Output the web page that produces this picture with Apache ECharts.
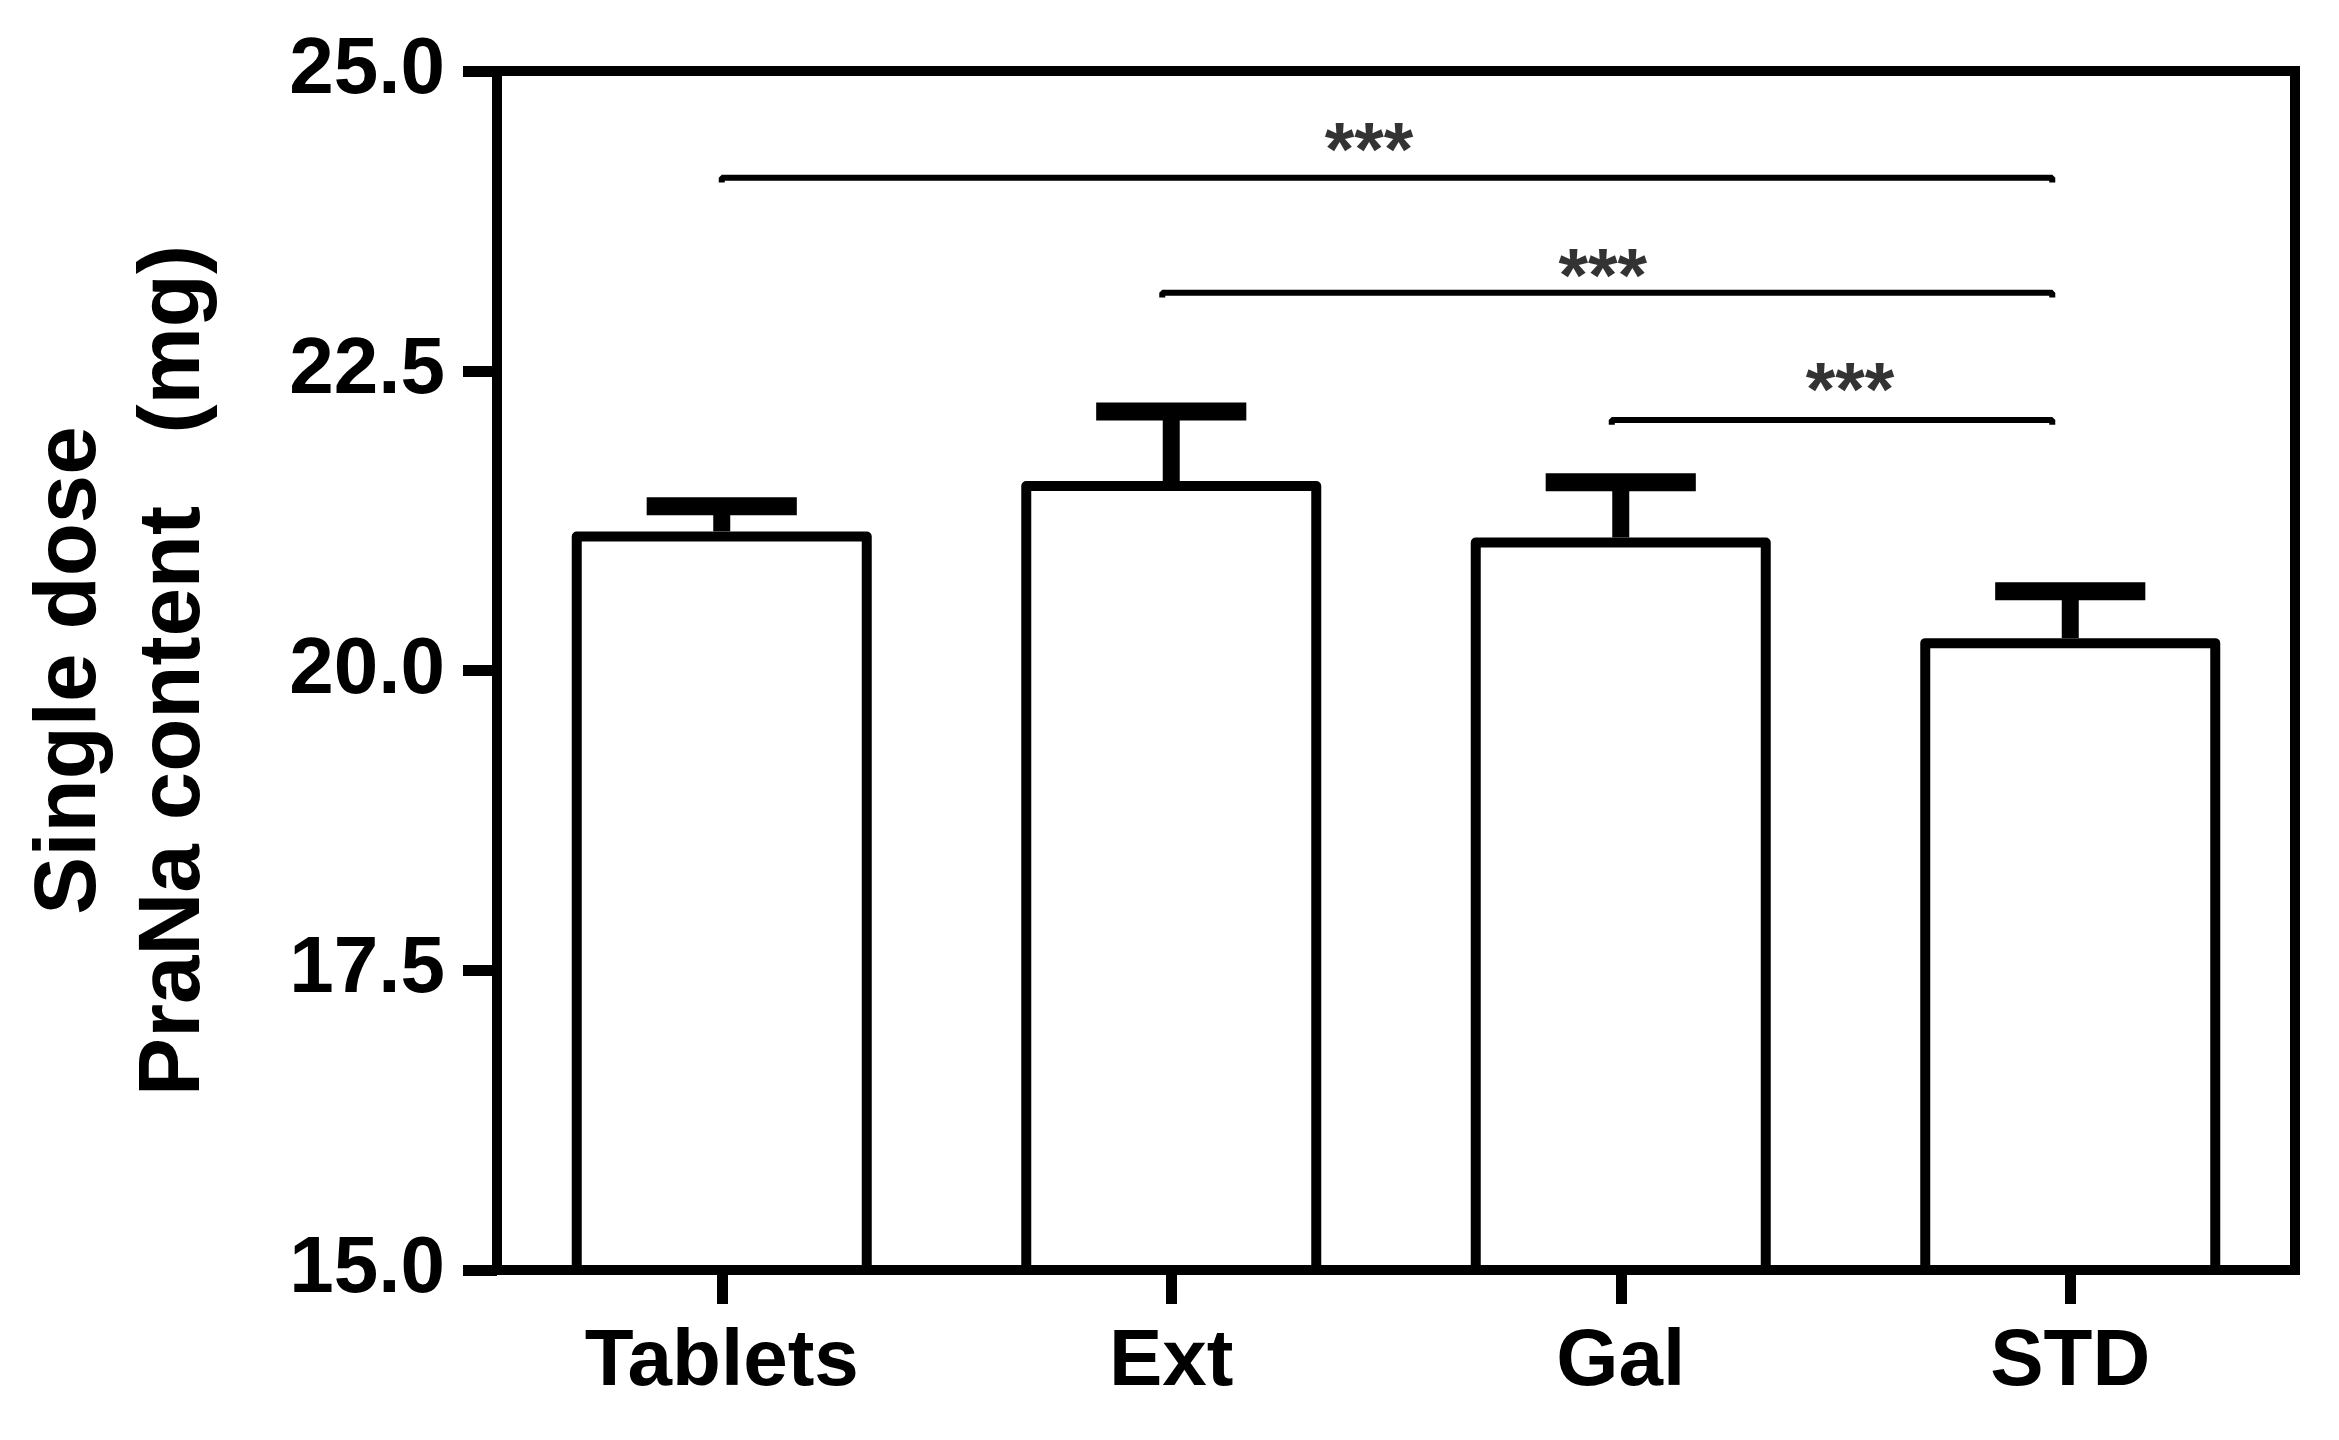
<!DOCTYPE html>
<html>
<head>
<meta charset="utf-8">
<script src="https://cdn.jsdelivr.net/npm/echarts@6/dist/echarts.min.js"></script>
<style>
html,body{margin:0;padding:0;background:#fff;}
#chart{width:2339px;height:1440px;}
</style>
</head>
<body>
<div id="chart"></div>
<script>
// ---- data ----
const categories = ['Tablets', 'Ext', 'Gal', 'STD'];
const means = [21.16, 21.58, 21.11, 20.27];
const sds = [0.21, 0.58, 0.46, 0.39];
const yMin = 15.0, yMax = 25.0, yStep = 2.5;
const yTitle = 'Single dose\nPraNa content   (mg)';
// significance brackets (x in category units, y in mg)
const sigLeft = [0.0, 0.98, 1.98];
const sigRight = [2.96, 2.96, 2.96];
const sigY = [24.11, 23.15, 22.09];
const sigText = ['***', '***', '***'];
const sigTextX = [1.44, 1.96, 2.51];
const sigTextY = [24.43, 23.38, 22.43];

const FONT = "'Liberation Sans', Arial, sans-serif";
const chart = echarts.init(document.getElementById('chart'), null, {renderer: 'canvas'});

const hook = 0.04;
const bracketSeries = sigLeft.map((l, i) => ({
  type: 'line',
  xAxisIndex: 1,
  symbol: 'none',
  silent: true,
  z: 5,
  lineStyle: {color: '#000', width: 6},
  data: [[l, sigY[i] - hook], [l, sigY[i]], [sigRight[i], sigY[i]], [sigRight[i], sigY[i] - hook]]
}));

const option = {
  animation: false,
  backgroundColor: '#fff',
  grid: {
    left: 497, right: 44, top: 71, bottom: 170,
    show: true, borderColor: '#000', borderWidth: 10, backgroundColor: 'transparent'
  },
  xAxis: [{
    type: 'category',
    data: categories,
    boundaryGap: true,
    axisLine: {show: true, onZero: false, lineStyle: {color: '#000', width: 10}},
    axisTick: {show: true, alignWithLabel: true, length: 34, lineStyle: {color: '#000', width: 11}},
    axisLabel: {margin: 53, fontSize: 80, fontWeight: 'bold', color: '#000', fontFamily: FONT},
    splitLine: {show: false}
  }, {
    type: 'value', min: -0.5, max: 3.5, show: false,
    axisLine: {onZero: false}
  }],
  yAxis: {
    type: 'value',
    min: yMin, max: yMax, interval: yStep,
    axisLine: {show: true, onZero: false, lineStyle: {color: '#000', width: 10}},
    axisTick: {show: true, length: 34, lineStyle: {color: '#000', width: 11}},
    axisLabel: {margin: 52, fontSize: 80, fontWeight: 'bold', color: '#000', fontFamily: FONT,
      formatter: v => v.toFixed(1)},
    splitLine: {show: false},
    name: yTitle,
    nameLocation: 'middle',
    nameRotate: 90,
    nameGap: 270,
    nameTextStyle: {fontSize: 87, fontWeight: 'bold', color: '#000', fontFamily: FONT, lineHeight: 104, align: 'center'}
  },
  series: [{
    type: 'bar',
    data: means,
    barWidth: 300,
    z: 2,
    itemStyle: {color: '#fff', borderColor: '#000', borderWidth: 10, borderJoin: 'round'}
  }, {
    type: 'custom',
    z: 3,
    data: categories.map((c, i) => [i, means[i], sds[i]]),
    encode: {x: 0, y: 1},
    renderItem: function (params, api) {
      const xi = api.value(0), m = api.value(1), s = api.value(2);
      const top = api.coord([xi, m]);
      const cap = api.coord([xi, m + s]);
      const bw = api.size([1, 0])[0] * 0.334;
      return {
        type: 'group',
        children: [
          {type: 'rect', shape: {x: top[0] - 8.5, y: cap[1], width: 17, height: top[1] - cap[1]}, style: {fill: '#000'}},
          {type: 'rect', shape: {x: cap[0] - bw / 2, y: cap[1] - 9, width: bw, height: 18}, style: {fill: '#000'}}
        ]
      };
    }
  }].concat(bracketSeries).concat([{
    type: 'scatter',
    xAxisIndex: 1,
    symbolSize: 1,
    silent: true,
    z: 6,
    itemStyle: {color: 'rgba(0,0,0,0)'},
    data: sigTextX.map((x, i) => [x, sigTextY[i]]),
    label: {
      show: true, position: 'inside', offset: [0, 15],
      formatter: p => sigText[p.dataIndex],
      fontSize: 76, color: '#000', fontFamily: FONT, fontWeight: 'bold'
    }
  }])
};
chart.setOption(option);
</script>
</body>
</html>
